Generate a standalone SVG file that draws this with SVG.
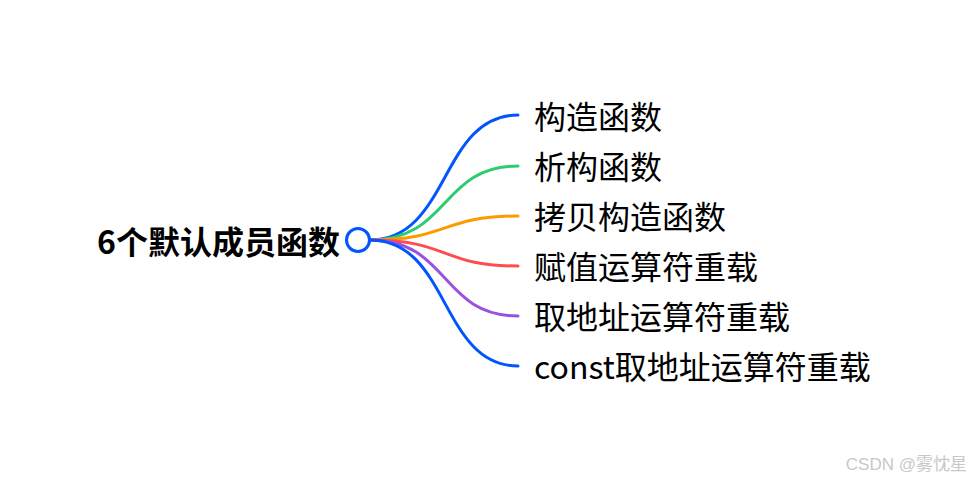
<svg xmlns="http://www.w3.org/2000/svg" width="972" height="482" viewBox="0 0 972 482">
<style>
.l{font-family:"Noto Sans CJK SC","Noto Sans",sans-serif;font-size:32px;fill:#000}
.c{fill:none;stroke-width:3;stroke-linecap:round}
</style>
<rect width="972" height="482" fill="#fff"/>
<g id="connectors">
<path class="c" stroke="#0055ff" d="M370,240 C450,240 440,115 518,115"/>
<path class="c" stroke="#2ecc71" d="M370,240 C450,240 440,166 518,166"/>
<path class="c" stroke="#ff9900" d="M370,240 C450,240 440,216 518,216"/>
<path class="c" stroke="#ff4d4f" d="M370,240 C450,240 440,266 518,266"/>
<path class="c" stroke="#9b51e0" d="M370,240 C450,240 440,316 518,316"/>
<path class="c" stroke="#0055ff" d="M370,240 C450,240 440,366 518,366"/>
</g>
<g id="root">
<text x="340" y="254" text-anchor="end" style="font-family:'Noto Sans CJK SC','Noto Sans',sans-serif;font-size:32px;font-weight:bold">6个默认成员函数</text>
<circle cx="358" cy="240" r="11.5" fill="#fff" stroke="#0055ff" stroke-width="3"/>
</g>
<g id="n1"><text class="l" x="534" y="129">构造函数</text></g>
<g id="n2"><text class="l" x="534" y="179">析构函数</text></g>
<g id="n3"><text class="l" x="534" y="229">拷贝构造函数</text></g>
<g id="n4"><text class="l" x="534" y="279">赋值运算符重载</text></g>
<g id="n5"><text class="l" x="534" y="329">取地址运算符重载</text></g>
<g id="n6"><text class="l" x="534" y="379">const取地址运算符重载</text></g>
<text x="967" y="470" text-anchor="end" style="font-family:'Liberation Sans','Noto Sans CJK SC',sans-serif;font-size:17px;fill:#c8c8c8">CSDN @雾忱星</text>
</svg>
